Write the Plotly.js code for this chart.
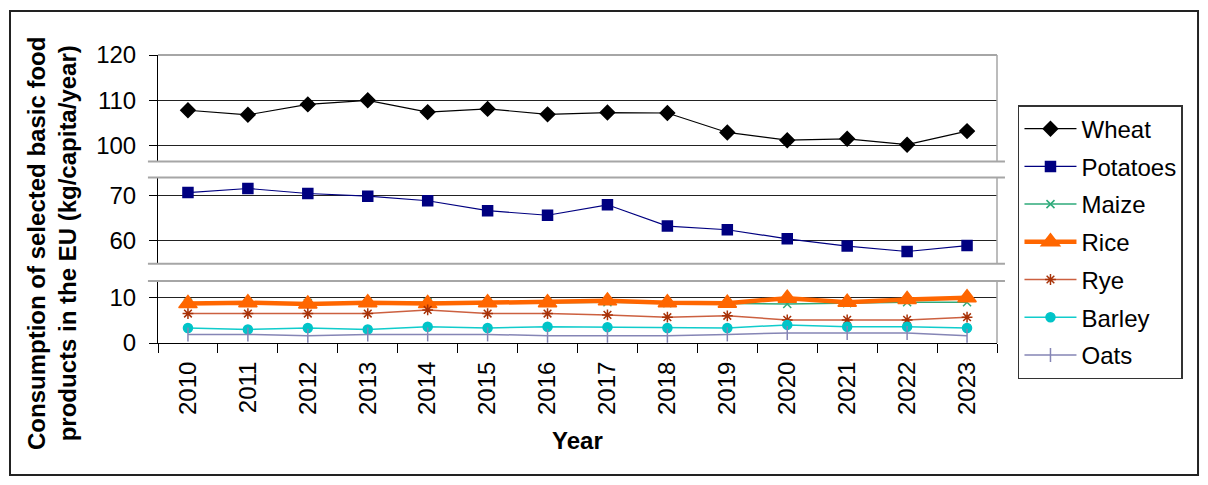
<!DOCTYPE html>
<html>
<head>
<meta charset="utf-8">
<script src="https://cdn.plot.ly/plotly-3.0.1.min.js"></script>
<style>
  html, body { margin: 0; padding: 0; background: #ffffff; }
  #chart { width: 1208px; height: 485px; }
</style>
</head>
<body>
<div id="chart"></div>
<script>
// Per-capita consumption of basic foods in the EU, kg/capita/year
const years = ["2010", "2011", "2012", "2013", "2014", "2015", "2016",
               "2017", "2018", "2019", "2020", "2021", "2022", "2023"];

const wheat    = [107.8, 106.8, 109.1, 110.0, 107.4, 108.1, 106.9, 107.3, 107.2, 102.9, 101.2, 101.5, 100.2, 103.2];
const potatoes = [70.6, 71.5, 70.4, 69.8, 68.8, 66.6, 65.6, 67.9, 63.2, 62.4, 60.4, 58.8, 57.6, 58.9];
const maize    = [8.9, 8.9, 8.8, 8.9, 9.0, 8.9, 8.9, 9.0, 8.8, 8.7, 8.6, 8.8, 9.0, 9.0];
const rice     = [8.7, 8.9, 8.6, 8.9, 8.7, 8.9, 8.9, 9.3, 8.9, 8.8, 9.9, 9.0, 9.6, 10.0];
const rye      = [6.5, 6.5, 6.5, 6.5, 7.3, 6.5, 6.5, 6.2, 5.7, 6.0, 5.1, 5.1, 5.1, 5.7];
const barley   = [3.3, 3.0, 3.3, 3.0, 3.6, 3.3, 3.6, 3.5, 3.3, 3.3, 4.0, 3.6, 3.6, 3.3];
const oats     = [1.9, 1.9, 1.6, 1.9, 1.9, 1.9, 1.6, 1.6, 1.6, 1.9, 2.2, 2.2, 2.2, 1.6];

const FONT = "Arial, 'Liberation Sans', sans-serif";

function series(name, values, axis, color, width, symbol, size, markerColor) {
  return {
    type: "scatter",
    mode: "lines+markers",
    name: name,
    legendgroup: name,
    x: years,
    y: values,
    xaxis: "x",
    yaxis: axis,
    line: { color: color, width: width },
    marker: { symbol: symbol, size: size, color: markerColor || color,
              line: { color: markerColor || color, width: 1.5 } },
    hoverinfo: "x+y+name"
  };
}

const traces = [
  series("Wheat", wheat, "y3", "#000000", 1.2, "diamond", 11),
  series("Potatoes", potatoes, "y2", "#000080", 1.2, "square", 10),
  series("Maize", maize, "y", "#2EAA7A", 1.5, "x-thin-open", 8),
  series("Rice", rice, "y", "#FF6600", 4.5, "triangle-up", 16),
  series("Rye", rye, "y", "#CC6040", 1.5, "asterisk-open", 9, "#A83208"),
  series("Barley", barley, "y", "#10CCCC", 1.5, "circle", 9, "#00C4C8"),
  series("Oats", oats, "y", "#8585B5", 1.5, "line-ns-open", 10)
];

// Broken value axis: three bands sharing one scale
const yCommon = {
  showline: true, linecolor: "#000000", linewidth: 1,
  ticks: "outside", ticklen: 8, tickcolor: "#000000", tickwidth: 1,
  ticklabelstandoff: 8,
  showgrid: true, gridcolor: "#222222", gridwidth: 1.2,
  zeroline: false, anchor: "x",
  tickfont: { family: FONT, size: 24, color: "#000000" }
};

// Gray break/border lines (paper coordinates)
const GRAY = "#A6A6A6";
function hline(y, x0, x1) {
  return { type: "line", xref: "paper", yref: "paper", x0: x0, x1: x1, y0: y, y1: y,
           line: { color: GRAY, width: 2 }, layer: "above" };
}
function vline(x, y0, y1) {
  return { type: "line", xref: "paper", yref: "paper", x0: x, x1: x, y0: y0, y1: y1,
           line: { color: GRAY, width: 1.5 }, layer: "above" };
}
const bandTop = [0.630, 1.0], bandMid = [0.2753, 0.5747], bandLow = [0.0, 0.2153];

const shapes = [
  hline(1.0, 0, 1),
  hline(bandTop[0], -0.012, 1.0095),
  hline(bandMid[1], -0.012, 1.0095),
  hline(bandMid[0], -0.012, 1.0095),
  hline(bandLow[1], -0.012, 1.0095),
  vline(1, bandTop[0], bandTop[1]),
  vline(1, bandMid[0], bandMid[1]),
  vline(1, bandLow[0], bandLow[1]),
  // outer frame
  { type: "rect", xref: "paper", yref: "paper", x0: -0.1764, x1: 1.2396, y0: -0.4583, y1: 1.1528,
    line: { color: "#222222", width: 2 }, fillcolor: "rgba(0,0,0,0)", layer: "below" }
];

const layout = {
  width: 1208, height: 485,
  margin: { l: 158, r: 211, t: 55, b: 142 },
  paper_bgcolor: "#ffffff", plot_bgcolor: "#ffffff",
  font: { family: FONT, size: 24, color: "#000000" },
  showlegend: true,
  xaxis: {
    type: "category", domain: [0, 1], anchor: "y",
    range: [-0.5, years.length - 0.5], autorange: false,
    showline: true, linecolor: "#000000", linewidth: 1,
    ticks: "outside", tickson: "boundaries", ticklen: 9, tickcolor: "#000000",
    ticklabelstandoff: 8,
    showgrid: false, zeroline: false, tickangle: -90,
    tickfont: { family: FONT, size: 24, color: "#000000" }
  },
  yaxis:  Object.assign({}, yCommon, { domain: bandLow, range: [0, 13.69], tickvals: [0, 10] }),
  yaxis2: Object.assign({}, yCommon, { domain: bandMid, range: [54.9, 73.93], tickvals: [60, 70] }),
  yaxis3: Object.assign({}, yCommon, { domain: bandTop, range: [96.48, 120], tickvals: [100, 110, 120] }),
  legend: {
    x: 1.025, y: 0.826, xanchor: "left", yanchor: "top",
    bgcolor: "#ffffff", bordercolor: "#333333", borderwidth: 1.5,
    font: { family: FONT, size: 24, color: "#000000" },
    itemwidth: 52,
    traceorder: "grouped", tracegroupgap: 3.5
  },
  shapes: shapes,
  annotations: [
    { text: "<b>Consumption of selected basic food<br>products in the EU (kg/capita/year)</b>",
      xref: "paper", yref: "paper", x: -0.1263, y: 0.344, textangle: -90,
      xanchor: "center", yanchor: "middle", showarrow: false,
      font: { family: FONT, size: 24, color: "#000000" } },
    { text: "<b>Year</b>", xref: "paper", yref: "paper", x: 0.5, y: -0.34,
      xanchor: "center", yanchor: "middle", showarrow: false,
      font: { family: FONT, size: 24, color: "#000000" } }
  ]
};

Plotly.newPlot("chart", traces, layout, { displayModeBar: false, staticPlot: true });
</script>
</body>
</html>
